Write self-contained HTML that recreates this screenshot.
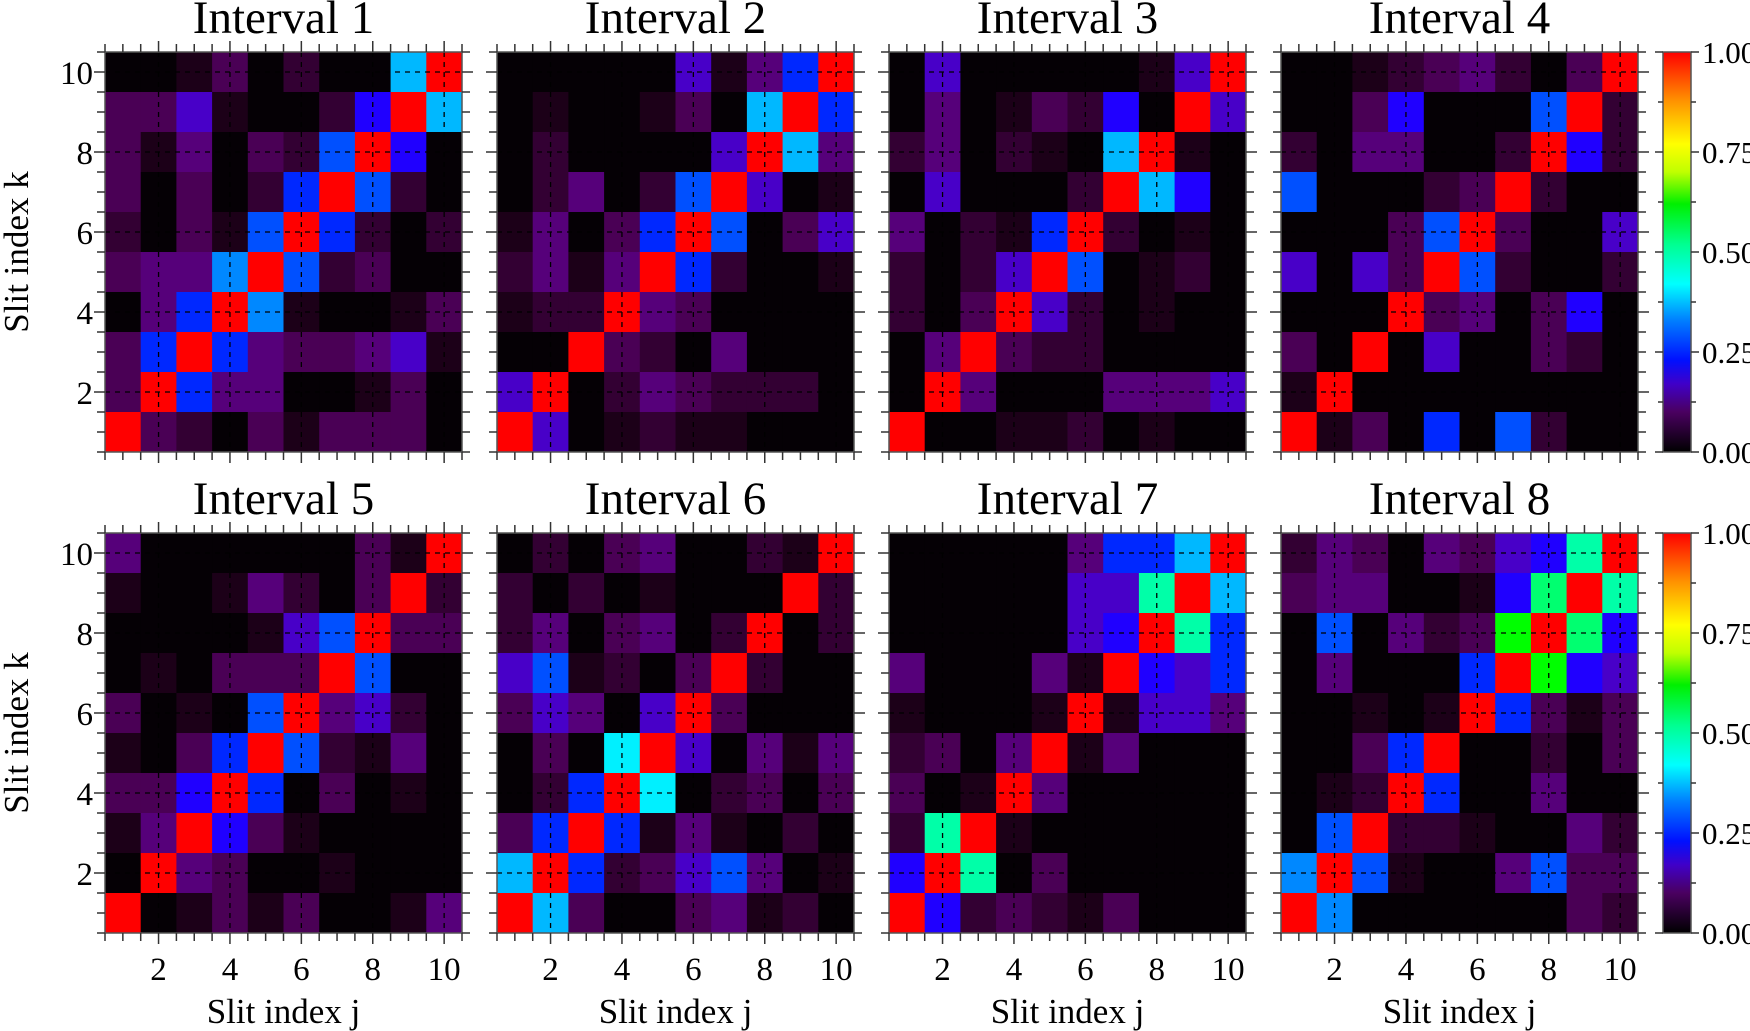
<!DOCTYPE html>
<html><head><meta charset="utf-8"><style>
html,body{margin:0;padding:0;background:#fff;}
svg{display:block;font-family:"Liberation Serif",serif;}
</style></head><body>
<svg id="s" width="1750" height="1031" xmlns="http://www.w3.org/2000/svg"></svg>
<script>
const C={K:'#050005',D:'#1c0018',d:'#330033',p:'#4a0055',P:'#56007a',V:'#4800c8',B:'#2000ff',b:'#0028ff',m:'#0050ff',a:'#0088ff',c:'#00b8ff',C:'#00f0ff',g:'#00ffa8',h:'#00ff70',G:'#00ff00',R:'#ff0000'};
const P=[
["KKDpKdKKcR","ppVDKKdBRc","pDPKpdmRBK","pKpKdbRmdK","dKpDmRbdKd","pPPaRmdpKK","KPbRaDKKDp","pbRbPppPVD","pRbPPKKDpK","RpdKpDpppK"],
["KKKKKVDPbR","KDKKDpKcRb","KdKKKKVRcP","KdPKdmRVKD","DPKpbRmKpV","dPDPRbdKKD","DddRPpKKKK","KKRpdKPKKK","VRKdPpdddK","RVKDdDDKKK"],
["KVKKKKKDVR","KPKDpdBKRV","dPKdDKcRDK","KVKKKdRcBK","PKdDbRdKDK","dKdVRmKDdK","dKpRVdKDKK","KPRpddKKKK","KRPKKKPPPV","RKKDDdKDKK"],
["KKDdpPdKpR","KKpBKKKmRd","dKPPKKdRBd","mKKKdpRdKK","KKKpmRpKKV","VKVpRmdKKd","KKKRpPKpBK","pKRKVKKpdK","DRKKKKKKKK","RDpKbKmdKK"],
["PKKKKKKpDR","DKKDPdKpRd","KKKKDVmRpp","KDKpppRmKK","pKDKmRPVdK","DKpbRmdDPK","ppBRbKpKDK","DPRBpDKKKK","KRPpKKDKKK","RKDpDpKKDP"],
["KdKpPKKdDR","dKdKDKKKRd","dPKpPKdRKd","VmDdKpRdKK","pVPKVRpKKK","KpKCRVKPDP","KdbRCKdpKp","pbRbDPDKdK","cRbdpVmPKD","RcpKKpPDdK"],
["KKKKKPbbcR","KKKKKVVgRc","KKKKKVBRgb","PKKKPDRBVb","DKKKDRDVVP","dpKPRDPKKK","pKDRPKKKKK","dgRDKKKKKK","BRgKpKKKKK","RBdpdDpKKK"],
["dPpKPpVBgR","pPPKKDBhRg","KmKPdpGRhB","KPKKKbRGBV","KKDKDRbpDp","KKpbRKKdKp","KDdRbKKPKK","KmRddDKKPd","aRmDKKPmpp","RaKKKKKKpd"]
];
const W=35.7,H=40,L=[105,497,889,1281],T=[52,533];
let s='';
s+='<defs><linearGradient id="cb" x1="0" y1="1" x2="0" y2="0">'+
[[0,'#000000'],[0.1,'#4a0060'],[0.17,'#4000c8'],[0.23,'#0010ff'],[0.33,'#0080ff'],[0.42,'#00ffff'],[0.52,'#00ff90'],[0.62,'#00f000'],[0.7,'#c0ff00'],[0.77,'#ffff00'],[0.88,'#ff9000'],[1,'#ff0000']].map(a=>`<stop offset="${a[0]}" stop-color="${a[1]}"/>`).join('')+'</linearGradient></defs>';
for(let n=0;n<8;n++){
 const x0=L[n%4],y0=T[n>>2],g=P[n];
 for(let r=0;r<10;r++)for(let c=0;c<10;c++){
  s+=`<rect x="${(x0+c*W).toFixed(1)}" y="${y0+r*H}" width="${(W+0.4).toFixed(1)}" height="${H+0.4}" fill="${C[g[r][c]]}"/>`;
 }
 const pw=10*W,ph=10*H;
 for(let j=2;j<=10;j+=2){const x=x0+(j-0.5)*W;s+=`<line x1="${x}" y1="${y0}" x2="${x}" y2="${y0+ph}" stroke="#000" stroke-width="1.3" stroke-dasharray="5,5"/>`;}
 for(let k=2;k<=10;k+=2){const y=y0+(10.5-k)*H;s+=`<line x1="${x0}" y1="${y}" x2="${x0+pw}" y2="${y}" stroke="#000" stroke-width="1.3" stroke-dasharray="5,5"/>`;}
 s+=`<rect x="${x0}" y="${y0}" width="${pw}" height="${ph}" fill="none" stroke="#555" stroke-width="1.5"/>`;
 for(let i=0;i<=20;i++){
  const x=x0+i*W/2,maj=(i%4==3),len=maj?11:8;
  s+=`<line x1="${x}" y1="${y0}" x2="${x}" y2="${y0-len}" stroke="#333" stroke-width="1.5"/>`;
  s+=`<line x1="${x}" y1="${y0+ph}" x2="${x}" y2="${y0+ph+len}" stroke="#333" stroke-width="1.5"/>`;
  const y=y0+ph-i*H/2;
  s+=`<line x1="${x0}" y1="${y}" x2="${x0-len}" y2="${y}" stroke="#333" stroke-width="1.5"/>`;
  s+=`<line x1="${x0+pw}" y1="${y}" x2="${x0+pw+len}" y2="${y}" stroke="#333" stroke-width="1.5"/>`;
 }
 s+=`<text x="${x0+pw/2}" y="${y0-19}" font-size="47" text-anchor="middle">Interval ${n+1}</text>`;
 if(n%4==0){
  for(let k=2;k<=10;k+=2)s+=`<text x="${x0-12}" y="${y0+(10.5-k)*H+12}" font-size="33" text-anchor="end">${k}</text>`;
  s+=`<text transform="translate(28,${y0+ph/2}) rotate(-90)" font-size="35" text-anchor="middle">Slit index k</text>`;
 }
 if(n>=4){
  for(let j=2;j<=10;j+=2)s+=`<text x="${x0+(j-0.5)*W}" y="${y0+ph+47}" font-size="33" text-anchor="middle">${j}</text>`;
  s+=`<text x="${x0+pw/2}" y="${y0+ph+90}" font-size="35" text-anchor="middle">Slit index j</text>`;
 }
}
for(const y0 of T){
 s+=`<rect x="1663" y="${y0}" width="28" height="400" fill="url(#cb)" stroke="#555" stroke-width="1.5"/>`;
 for(let i=0;i<=8;i++){const y=y0+400-i*50,len=(i%2==0)?8:5;s+=`<line x1="1691" y1="${y}" x2="${1691+len}" y2="${y}" stroke="#333" stroke-width="1.5"/><line x1="1663" y1="${y}" x2="${1663-len}" y2="${y}" stroke="#333" stroke-width="1.5"/>`;}
 ['0.00','0.25','0.50','0.75','1.00'].forEach((t,i)=>{s+=`<text x="1702" y="${y0+400-i*100+11}" font-size="31">${t}</text>`;});
}
document.getElementById('s').innerHTML=s;
</script>
</body></html>
